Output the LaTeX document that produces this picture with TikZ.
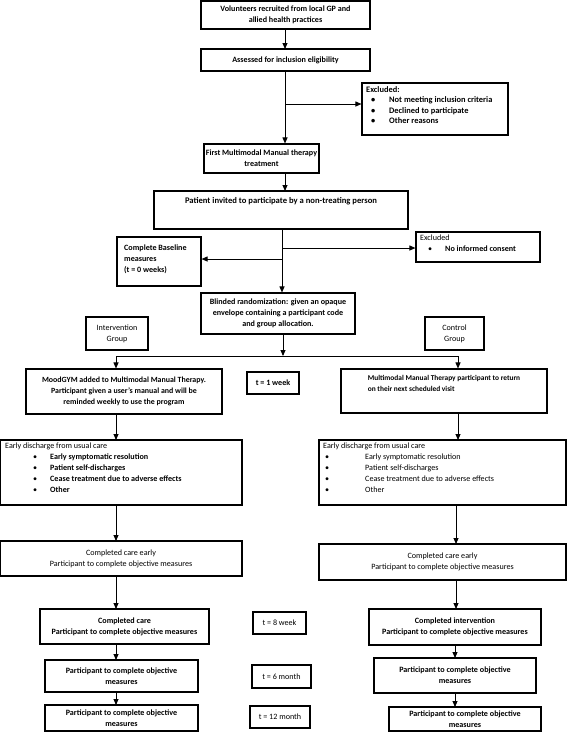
\documentclass[tikz,border=0pt]{standalone}
\usepackage{fontspec}
\setmainfont{Carlito}
\usetikzlibrary{arrows.meta,calc}
\newcommand\fs{\fontsize{8.1}{10.8}\selectfont}
\tikzset{
  box/.style={draw,line width=1.1pt,inner sep=0pt,align=center,font=\bfseries\fs},
  reg/.style={font=\fs},
  txt/.style={inner sep=0pt,align=left,font=\bfseries\fs},
  rtxt/.style={inner sep=0pt,align=left,font=\fs},
  ln/.style={line width=0.9pt},
  arr/.style={line width=0.9pt,-{Triangle[length=6pt,width=5pt]}}
}
\newcommand\bx[6][]{\node[box,#1,minimum width={(#5-#3)*1pt},minimum height={(#6-#4)*1pt}] (#2) at ({(#3+#5)/2},{(#4+#6)/2})}
\newcommand\bul[2]{\hspace*{#1}\makebox[#2][l]{\textbullet}}
\begin{document}
\begin{tikzpicture}[x=1pt,y=-1pt]
\useasboundingbox (0,0) rectangle (568,732);
% top
\bx{vol}{201}{1}{370}{29} {Volunteers recruited from local GP and\\allied health practices};
\bx{ass}{201}{49}{370}{71} {Assessed for inclusion eligibility};
\bx{exc1}{362}{83}{508}{135} {};
\node[txt,anchor=north west,font=\bfseries\fontsize{8.4}{10.6}\selectfont] (exc1t) at (366,86) {Excluded:\\\bul{5pt}{18pt}Not meeting inclusion criteria\\\bul{5pt}{18pt}Declined to participate\\\bul{5pt}{18pt}Other reasons};
\bx{mmt1}{204}{144}{319}{173} {First Multimodal Manual therapy\\treatment};
\bx{pat}{154}{191}{408}{229} {};
\node[txt,anchor=north,font=\bfseries\fontsize{8.6}{10.8}\selectfont] (patt) at (281,197) {Patient invited to participate by a non-treating person};
\bx{base}{117}{237}{201}{286} {};
\node[txt,anchor=west] (baset) at (124,259) {Complete Baseline\\measures\\ (t = 0 weeks)};
\bx{exc2}{416}{232}{540}{262} {};
\node[rtxt,anchor=north west] (exc2t) at (420,235) {Excluded\\\bul{8pt}{17pt}\textbf{No informed consent}};
\bx{blind}{201}{293}{355}{334} {Blinded randomization: given an opaque\\envelope containing a participant code\\and group allocation.};
\bx[reg]{intg}{86}{317}{148}{350} {Intervention\\Group};
\bx[reg]{ctlg}{425}{317}{484}{350} {Control\\Group};
% arrows top
\draw[arr] (vol.south -| 285,0) -- (285,49);
\coordinate (c1) at (285,71);
\coordinate (b1) at (285,104);
\draw[arr] (c1) -- (c1 |- mmt1.north);
\draw[arr] (b1) -- (b1 -| exc1.west);
\draw[arr] (mmt1.south -| 285,0) -- (285,191);
\coordinate (c2) at (282,229);
\coordinate (b2l) at (282,259);
\coordinate (b2r) at (282,248);
\draw[arr] (c2) -- (c2 |- blind.north);
\draw[arr] (b2l) -- (b2l -| base.east);
\draw[arr] (b2r) -- (b2r -| exc2.west);
% split
\coordinate (bar) at (283,356);
\coordinate (barl) at (116,356);
\coordinate (barr) at (458,356);
\draw[arr] (blind.south -| bar) -- (bar);
\draw[ln] (barl) -- (barr);
% level 2
\bx[font=\bfseries\fontsize{7.9}{10.8}\selectfont]{mood}{26}{369}{222}{414} {MoodGYM added to Multimodal Manual Therapy.\\Participant given a user’s manual and will be\\reminded weekly to use the program};
\bx{t1}{247}{372}{299}{394} {t = 1 week};
\bx{ctl}{341}{369}{547}{413} {};
\node[txt,anchor=north,font=\bfseries\fontsize{7.4}{10.8}\selectfont] (ctlt) at (444,375) {Multimodal Manual Therapy participant to return\\on their next scheduled visit};
\draw[arr] (barl) -- (barl |- mood.north);
\draw[arr] (barr) -- (barr |- ctl.north);
% early discharge
\bx{edL}{0}{440}{242}{505} {};
\node[rtxt,anchor=north west] (edLt) at (5,443) {Early discharge from usual care\\\bul{28pt}{17pt}\textbf{Early symptomatic resolution}\\\bul{28pt}{17pt}\textbf{Patient self-discharges}\\\bul{28pt}{17pt}\textbf{Cease treatment due to adverse effects}\\\bul{28pt}{17pt}\textbf{Other}};
\bx{edR}{319}{440}{566}{505} {};
\node[rtxt,anchor=north west] (edRt) at (323,443) {Early discharge from usual care\\\bul{2pt}{40pt}Early symptomatic resolution\\\bul{2pt}{40pt}Patient self-discharges\\\bul{2pt}{40pt}Cease treatment due to adverse effects\\\bul{2pt}{40pt}Other};
\draw[arr] (mood.south -| 116,0) -- (116,440);
\draw[arr] (ctl.south -| 458,0) -- (458,440);
% completed care early
\bx[reg]{cceL}{0}{541}{242}{576} {Completed care early\\Participant to complete objective measures};
\bx[reg]{cceR}{319}{544}{566}{580} {Completed care early\\Participant to complete objective measures};
\draw[arr] (edL.south -| 116,0) -- (116,541);
\draw[arr] (edR.south -| 456,0) -- (456,544);
% later
\bx{ccL}{40}{609}{209}{644} {Completed care\\Participant to complete objective measures};
\bx[reg]{t8}{253}{612}{306}{634} {t = 8 week};
\bx{ciR}{369}{609}{541}{645} {Completed intervention\\Participant to complete objective measures};
\draw[arr] (cceL.south -| 116,0) -- (116,609);
\draw[arr] (cceR.south -| 456,0) -- (456,609);
\bx{p1L}{45}{660}{198}{692} {Participant to complete objective\\measures};
\bx[reg]{t6}{252}{665}{311}{688} {t = 6 month};
\bx{p1R}{374}{658}{536}{693} {Participant to complete objective\\measures};
\draw[arr] (ccL.south -| 116,0) -- (116,660);
\draw[arr] (ciR.south -| 455,0) -- (455,658);
\bx{p2L}{45}{705}{198}{731} {Participant to complete objective\\measures};
\bx[reg]{t12}{250}{706}{310}{728} {t = 12 month};
\bx{p2R}{389}{707}{541}{731} {Participant to complete objective\\measures};
\draw[arr] (p1L.south -| 116,0) -- (116,705);
\draw[arr] (p1R.south -| 455,0) -- (455,707);
\end{tikzpicture}
\end{document}
